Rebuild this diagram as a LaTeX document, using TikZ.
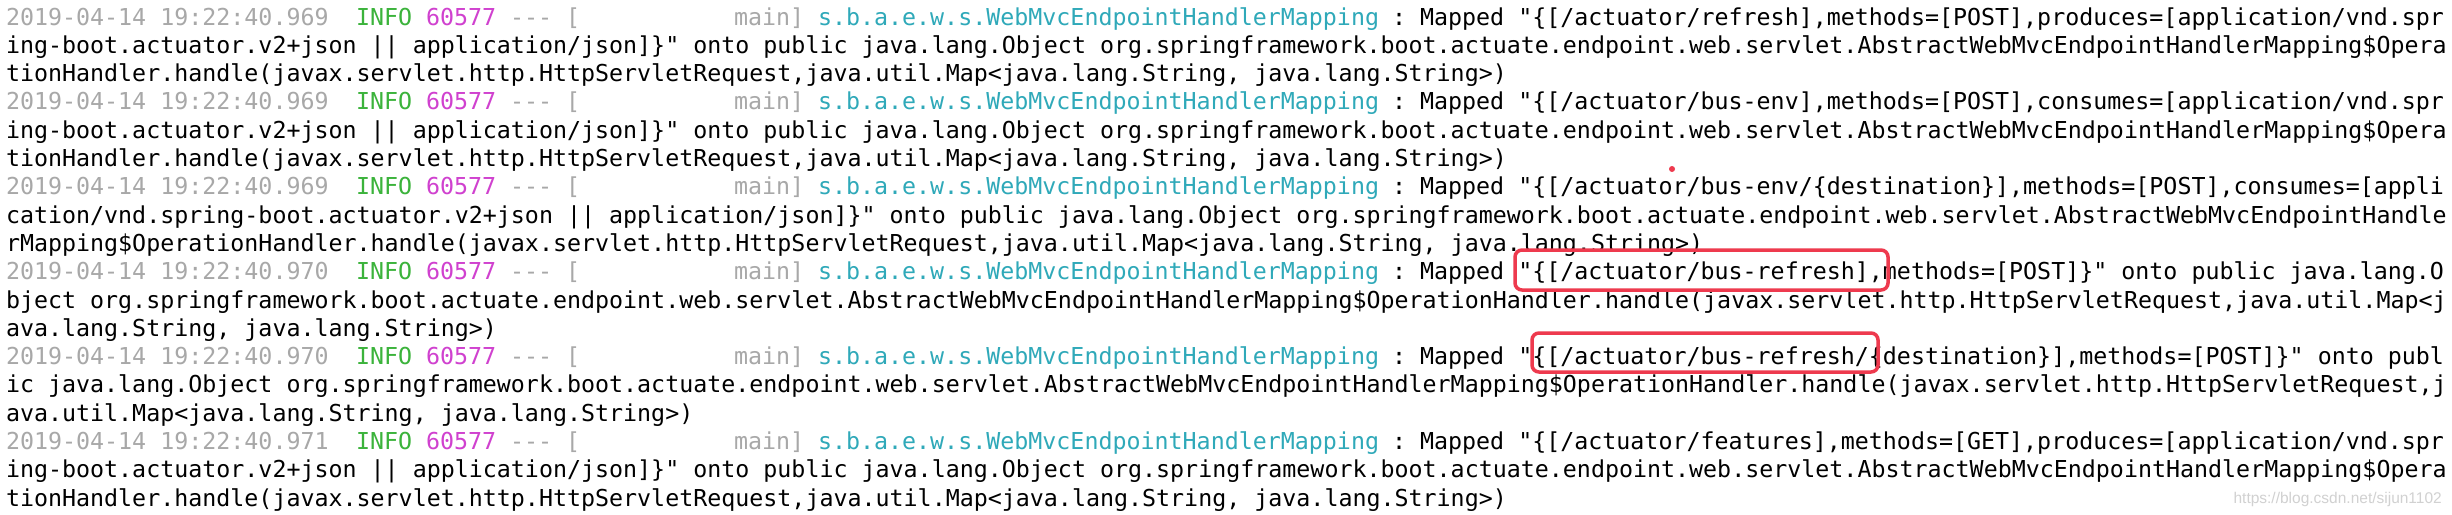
\documentclass[tikz,border=0pt]{standalone}
\usepackage{fontspec}
\setmonofont{DejaVu Sans Mono}
\newfontfamily\wmfont{Liberation Sans}
\definecolor{tsgrey}{HTML}{A8A8A8}
\definecolor{lvgreen}{HTML}{3BB33B}
\definecolor{pidmag}{HTML}{D041CF}
\definecolor{logcyan}{HTML}{2FA9B9}
\definecolor{boxred}{HTML}{EE3A4E}
\tikzset{txt/.style={anchor=base west,inner sep=0pt,outer sep=0pt,font=\fontsize{23.3}{28}\ttfamily},
  hl/.style={draw=boxred,line width=3.5pt,rounded corners=7pt}}
\newcommand\rowy[1]{-(17+(#1-1)*28.3+8)}
\newcommand\tline[3][black]{\node[txt,text=#1] at (6pt,{\rowy{#2}*1pt}) {#3};}
\newcommand\tseg[4]{\node[txt,text=#3] at ({(6+#2*14)*1pt},{\rowy{#1}*1pt}) {#4};}
\newcommand\hdr[3]{%
  \tseg{#1}{0}{tsgrey}{2019-04-14 19:22:40.#2}
  \tseg{#1}{25}{lvgreen}{INFO}
  \tseg{#1}{30}{pidmag}{60577}
  \tseg{#1}{36}{tsgrey}{--- [}
  \tseg{#1}{52}{tsgrey}{main]}
  \tseg{#1}{58}{logcyan}{s.b.a.e.w.s.WebMvcEndpointHandlerMapping}
  \tseg{#1}{99}{black}{: Mapped #3}}
\begin{document}
\begin{tikzpicture}[x=1pt,y=1pt]
\useasboundingbox (0,0) rectangle (2452,-514);
\fill[white] (0,0) rectangle (2452,-514);
\hdr{1}{969}{"\{[/actuator/refresh],methods=[POST],produces=[application/vnd.spr}
\tline{2}{ing-boot.actuator.v2+json || application/json]\}" onto public java.lang.Object org.springframework.boot.actuate.endpoint.web.servlet.AbstractWebMvcEndpointHandlerMapping\$Opera}
\tline{3}{tionHandler.handle(javax.servlet.http.HttpServletRequest,java.util.Map<java.lang.String, java.lang.String>)}
\hdr{4}{969}{"\{[/actuator/bus-env],methods=[POST],consumes=[application/vnd.spr}
\tline{5}{ing-boot.actuator.v2+json || application/json]\}" onto public java.lang.Object org.springframework.boot.actuate.endpoint.web.servlet.AbstractWebMvcEndpointHandlerMapping\$Opera}
\tline{6}{tionHandler.handle(javax.servlet.http.HttpServletRequest,java.util.Map<java.lang.String, java.lang.String>)}
\hdr{7}{969}{"\{[/actuator/bus-env/\{destination\}],methods=[POST],consumes=[appli}
\tline{8}{cation/vnd.spring-boot.actuator.v2+json || application/json]\}" onto public java.lang.Object org.springframework.boot.actuate.endpoint.web.servlet.AbstractWebMvcEndpointHandle}
\tline{9}{rMapping\$OperationHandler.handle(javax.servlet.http.HttpServletRequest,java.util.Map<java.lang.String, java.lang.String>)}
\hdr{10}{970}{"\{[/actuator/bus-refresh],methods=[POST]\}" onto public java.lang.O}
\tline{11}{bject org.springframework.boot.actuate.endpoint.web.servlet.AbstractWebMvcEndpointHandlerMapping\$OperationHandler.handle(javax.servlet.http.HttpServletRequest,java.util.Map<j}
\tline{12}{ava.lang.String, java.lang.String>)}
\hdr{13}{970}{"\{[/actuator/bus-refresh/\{destination\}],methods=[POST]\}" onto publ}
\tline{14}{ic java.lang.Object org.springframework.boot.actuate.endpoint.web.servlet.AbstractWebMvcEndpointHandlerMapping\$OperationHandler.handle(javax.servlet.http.HttpServletRequest,j}
\tline{15}{ava.util.Map<java.lang.String, java.lang.String>)}
\hdr{16}{971}{"\{[/actuator/features],methods=[GET],produces=[application/vnd.spr}
\tline{17}{ing-boot.actuator.v2+json || application/json]\}" onto public java.lang.Object org.springframework.boot.actuate.endpoint.web.servlet.AbstractWebMvcEndpointHandlerMapping\$Opera}
\tline{18}{tionHandler.handle(javax.servlet.http.HttpServletRequest,java.util.Map<java.lang.String, java.lang.String>)}
\draw[hl] (1515,-250) rectangle (1888,-290);
\draw[hl] (1532,-333) rectangle (1878,-372);
\fill[boxred] (1672,-169) circle (3);
\node[anchor=base east,inner sep=0pt,text=black!18,font=\fontsize{15.5}{18}\wmfont] (wm) at (2442,-503) {https://blog.csdn.net/sijun1102};
\end{tikzpicture}
\end{document}
